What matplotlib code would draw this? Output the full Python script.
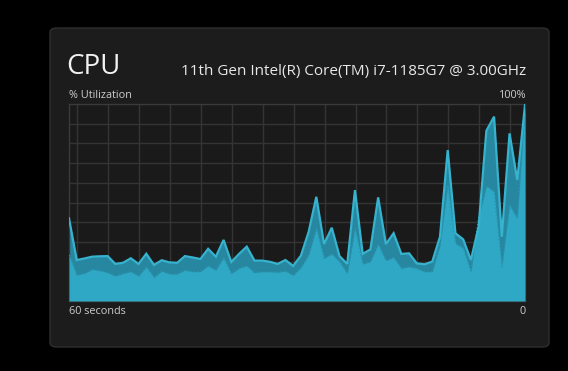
import numpy as np
import matplotlib
matplotlib.use("Agg")
import matplotlib.pyplot as plt
from matplotlib.patches import FancyBboxPatch

# % utilization over the last 60 samples (oldest first)
total_util = [42.0, 20.8, 21.6, 22.5, 22.7, 22.8, 18.8, 19.4, 21.7, 18.8,
              24.0, 18.3, 20.7, 19.6, 19.4, 22.8, 22.1, 21.3, 26.5, 22.5,
              31.0, 19.8, 23.9, 27.6, 20.5, 20.5, 19.9, 18.8, 20.8, 17.8,
              23.0, 35.0, 52.9, 28.9, 37.2, 22.8, 18.8, 56.3, 23.9, 26.2,
              52.6, 28.9, 34.4, 23.9, 24.2, 19.1, 18.6, 20.0, 32.6, 76.6,
              34.4, 31.3, 20.8, 37.7, 86.4, 93.6, 32.6, 85.1, 61.4, 99.5]
kernel_util = [23.4, 13.2, 14.0, 16.1, 15.4, 14.4, 12.7, 14.0, 14.9, 12.7,
               17.4, 12.0, 15.2, 13.7, 13.7, 15.7, 14.9, 14.9, 17.9, 15.7,
               22.0, 14.0, 16.6, 17.9, 14.4, 14.9, 14.9, 14.6, 15.2, 13.0,
               17.0, 23.4, 36.9, 21.7, 23.9, 20.0, 14.0, 36.9, 18.8, 20.0,
               28.9, 20.5, 22.2, 16.6, 17.4, 16.6, 14.9, 14.9, 28.4, 58.9,
               29.3, 26.8, 14.9, 42.0, 58.4, 55.5, 17.4, 48.7, 42.0, 99.0]

title = "CPU"
model = "11th Gen Intel(R) Core(TM) i7-1185G7 @ 3.00GHz"

W, H = 568, 371
fig = plt.figure(figsize=(W / 100, H / 100), dpi=100, facecolor="black")

# card behind the graph
card = FancyBboxPatch((50 / W, (H - 347) / H), 499 / W, 319 / H,
                      boxstyle="round,pad=0,rounding_size=0.012",
                      transform=fig.transFigure, facecolor="#1c1c1c",
                      edgecolor="#2e2e2e", lw=1.0, zorder=-1)
fig.patches.append(card)

ax = fig.add_axes([69 / W, (H - 301) / H, 456 / W, 197 / H])
ax.set_zorder(2)
ax.set_facecolor("#1a1a1a")
x = np.arange(len(total_util))
ax.set_xlim(0, len(x) - 1)
ax.set_ylim(0, 100)

# grid scrolls with time, so the vertical lines are offset from the edge
for gx in np.arange(1.07, len(x) - 1, 4.0):
    ax.axvline(gx, color="#343434", lw=1.0, zorder=0)
for gy in range(10, 100, 10):
    ax.axhline(gy, color="#343434", lw=1.0, zorder=0)

ax.fill_between(x, 0, total_util, color="#2887a0", lw=0, zorder=2)
ax.fill_between(x, 0, kernel_util, color="#2fa8c5", lw=0, zorder=3)
ax.plot(x, kernel_util, color="#2a95af", lw=1.0, ls=(0, (1, 1.5)), zorder=4)
ax.plot(x, total_util, color="#36b3cf", lw=1.6, zorder=5, solid_joinstyle="miter")

ax.set_xticks([]); ax.set_yticks([])
for s in ax.spines.values():
    s.set_edgecolor("#3a3a3a")
    s.set_linewidth(1.0)

font = ["Open Sans", "DejaVu Sans"]
fig.text(66 / W, 1 - 67 / H, title, color="#f2f2f2", fontsize=20, family=font,
         va="center", ha="left")
fig.text(526 / W, 1 - 71 / H, model, color="#e8e8e8", fontsize=11, family=font,
         va="center", ha="right")
fig.text(69 / W, 1 - 95 / H, "% Utilization", color="#cccccc", fontsize=7.8, family=font,
         va="center", ha="left")
fig.text(526 / W, 1 - 95 / H, "100%", color="#cccccc", fontsize=7.8, family=font,
         va="center", ha="right")
fig.text(69 / W, 1 - 311 / H, "60 seconds", color="#cccccc", fontsize=7.8, family=font,
         va="center", ha="left")
fig.text(526 / W, 1 - 311 / H, "0", color="#cccccc", fontsize=7.8, family=font,
         va="center", ha="right")

fig.savefig("out.png", dpi=100, facecolor="black")
